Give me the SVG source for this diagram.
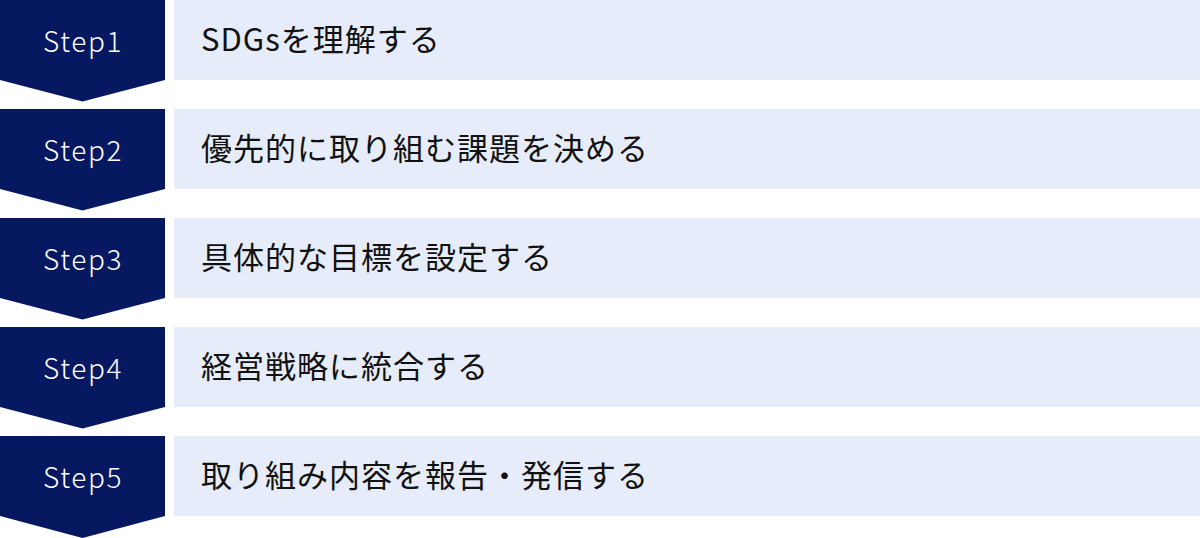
<svg xmlns="http://www.w3.org/2000/svg" width="1200" height="538" viewBox="0 0 1200 538">
<style>
.chev{fill:#06185f}
.panel{fill:#e6ecf9}
.step{font-family:"Noto Sans CJK JP","Noto Sans",sans-serif;font-size:28px;font-weight:300;fill:#ffffff;text-anchor:middle;letter-spacing:1.6px}
.label{font-family:"Noto Sans CJK JP","Noto Sans",sans-serif;font-size:31px;fill:#111111;letter-spacing:1px}
</style>
<rect width="1200" height="538" fill="#ffffff"/>
<g id="step1">
<path class="chev" d="M0 0H165V80L82.5 101.5L0 80Z"/>
<rect class="panel" x="174" y="0" width="1026" height="80"/>
<text class="step" x="83" y="52">Step1</text>
<text class="label" x="201" y="51">SDGsを理解する</text>
</g>
<g id="step2">
<path class="chev" d="M0 109H165V189L82.5 210.5L0 189Z"/>
<rect class="panel" x="174" y="109" width="1026" height="80"/>
<text class="step" x="83" y="161">Step2</text>
<text class="label" x="201" y="160">優先的に取り組む課題を決める</text>
</g>
<g id="step3">
<path class="chev" d="M0 218H165V298L82.5 319.5L0 298Z"/>
<rect class="panel" x="174" y="218" width="1026" height="80"/>
<text class="step" x="83" y="270">Step3</text>
<text class="label" x="201" y="269">具体的な目標を設定する</text>
</g>
<g id="step4">
<path class="chev" d="M0 327H165V407L82.5 428.5L0 407Z"/>
<rect class="panel" x="174" y="327" width="1026" height="80"/>
<text class="step" x="83" y="379">Step4</text>
<text class="label" x="201" y="378">経営戦略に統合する</text>
</g>
<g id="step5">
<path class="chev" d="M0 436H165V516L82.5 538L0 516Z"/>
<rect class="panel" x="174" y="436" width="1026" height="80"/>
<text class="step" x="83" y="488">Step5</text>
<text class="label" x="201" y="487">取り組み内容を報告・発信する</text>
</g>
<g id="connectors"></g>
</svg>
